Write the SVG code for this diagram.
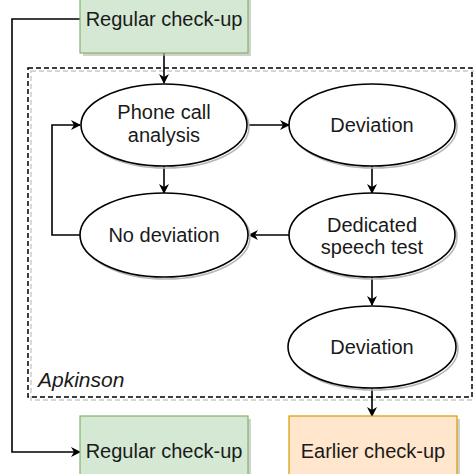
<svg xmlns="http://www.w3.org/2000/svg" width="474" height="474" viewBox="0 0 474 474">
<style>
text{font-family:"Liberation Sans",Arial,sans-serif;font-size:20px;fill:#1a1a1a;text-anchor:middle}
.green{fill:#d5e8d4;stroke:#82b366;stroke-width:1.2}
.orange{fill:#ffe6cc;stroke:#d79b00;stroke-width:1.2}
.shadow{fill:#b3b3b3;opacity:0.6}
.ell{fill:#fff;stroke:#000;stroke-width:1.6}
.eshadow{fill:none;stroke:#b8b8b8;stroke-width:1.6}
.edge{fill:none;stroke:#000;stroke-width:1.6}
</style>
<defs>
<marker id="arr" viewBox="0 0 10 10" refX="9" refY="5" markerWidth="10" markerHeight="10" markerUnits="userSpaceOnUse" orient="auto">
<path d="M0,0 L10,5 L0,10 L3,5 Z" fill="#000"/>
</marker>
</defs>
<rect x="0" y="0" width="474" height="474" fill="#fff"/>
<g id="container">
<rect x="31" y="71" width="444" height="329" fill="none" stroke="#c8c8c8" stroke-width="1.4" stroke-dasharray="5 3"/>
<rect x="28" y="68" width="444" height="329" fill="none" stroke="#000" stroke-width="1.5" stroke-dasharray="5 3"/>
<text x="38" y="387" style="font-style:italic;text-anchor:start;font-size:21px">Apkinson</text>
</g>
<g id="connectors">
<path class="edge" d="M164,53 V83" marker-end="url(#arr)"/>
<path class="edge" d="M248,125 H289" marker-end="url(#arr)"/>
<path class="edge" d="M372,166 V193" marker-end="url(#arr)"/>
<path class="edge" d="M164,166 V193" marker-end="url(#arr)"/>
<path class="edge" d="M289,235 H249" marker-end="url(#arr)"/>
<path class="edge" d="M80,235 H52 V125 H80" marker-end="url(#arr)"/>
<path class="edge" d="M372,277 V305" marker-end="url(#arr)"/>
<path class="edge" d="M372,388 V416" marker-end="url(#arr)"/>
<path class="edge" d="M80,19 H12 V452 H80" marker-end="url(#arr)"/>
</g>
<g id="top-regular">
<rect class="shadow" x="83" y="-12" width="168" height="68"/>
<rect class="green" x="80" y="-15" width="168" height="68"/>
<text x="164" y="26">Regular check-up</text>
</g>
<g id="phone-call">
<ellipse class="eshadow" cx="166" cy="127" rx="83" ry="41"/>
<ellipse class="ell" cx="164" cy="125" rx="83" ry="41"/>
<text x="164" y="119">Phone call</text>
<text x="164" y="142">analysis</text>
</g>
<g id="deviation-1">
<ellipse class="eshadow" cx="374" cy="127" rx="83" ry="41"/>
<ellipse class="ell" cx="372" cy="125" rx="83" ry="41"/>
<text x="372" y="132">Deviation</text>
</g>
<g id="no-deviation">
<ellipse class="eshadow" cx="166" cy="237" rx="84" ry="42"/>
<ellipse class="ell" cx="164" cy="235" rx="84" ry="42"/>
<text x="164" y="242">No deviation</text>
</g>
<g id="speech-test">
<ellipse class="eshadow" cx="374" cy="237" rx="83" ry="42"/>
<ellipse class="ell" cx="372" cy="235" rx="83" ry="42"/>
<text x="372" y="232">Dedicated</text>
<text x="372" y="254">speech test</text>
</g>
<g id="deviation-2">
<ellipse class="eshadow" cx="374" cy="349" rx="84" ry="41"/>
<ellipse class="ell" cx="372" cy="347" rx="84" ry="41"/>
<text x="372" y="354">Deviation</text>
</g>
<g id="bottom-regular">
<rect class="shadow" x="83" y="419" width="168" height="68"/>
<rect class="green" x="80" y="416" width="168" height="68"/>
<text x="164" y="458">Regular check-up</text>
</g>
<g id="earlier">
<rect class="shadow" x="292" y="419" width="168" height="68"/>
<rect class="orange" x="289" y="416" width="168" height="68"/>
<text x="373" y="458">Earlier check-up</text>
</g>
</svg>
